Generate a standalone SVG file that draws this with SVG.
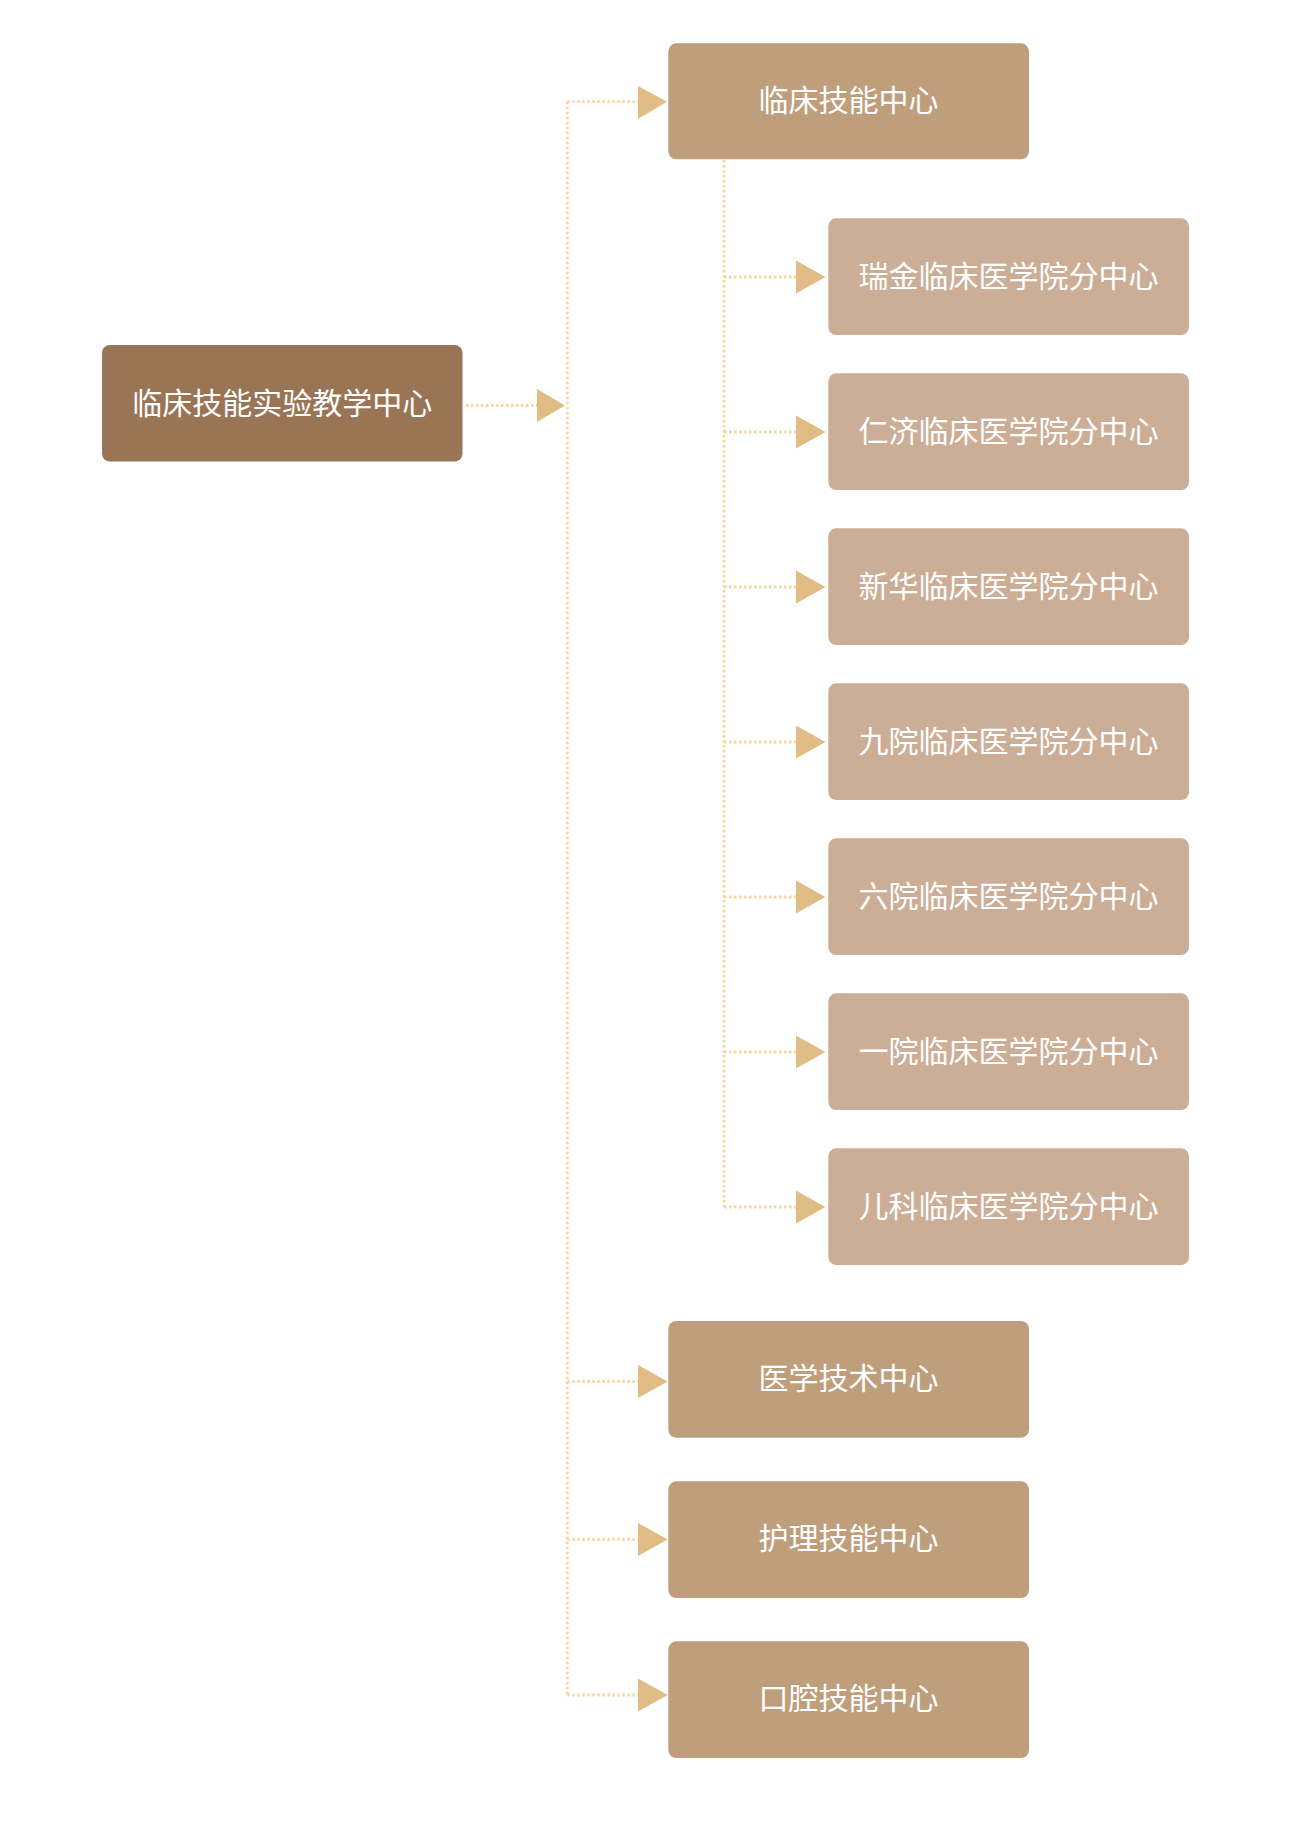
<svg xmlns="http://www.w3.org/2000/svg" width="1290" height="1830" viewBox="0 0 1290 1830">
<style>
.bg{fill:#ffffff}
.root{fill:#997555}
.l1{fill:#BF9E7C}
.l2{fill:#CCAE97}
.t{fill:#ffffff;font-family:"Noto Sans CJK SC","Noto Sans",sans-serif;font-size:30px;text-anchor:middle}
.dot{stroke:#F8D6A0;stroke-width:2.8;stroke-dasharray:2.5 2.5;fill:none}
.arr{fill:#E1BD86}
</style>
<rect class="bg" x="0" y="0" width="1290" height="1830"/>
<g id="connectors">
<path class="dot" d="M466 405.5H537"/>
<polygon class="arr" points="537,389 565,405.5 537,422"/>
<path class="dot" d="M567.3 101.7V1695"/>
<path class="dot" d="M567.3 101.7H638"/>
<polygon class="arr" points="638,86 667,101.7 638,119"/>
<path class="dot" d="M567.3 1381.5H638"/>
<polygon class="arr" points="638,1365 667.7,1381.5 638,1398"/>
<path class="dot" d="M567.3 1539.5H638"/>
<polygon class="arr" points="638,1523 667.7,1539.5 638,1556"/>
<path class="dot" d="M567.3 1695H638"/>
<polygon class="arr" points="638,1678.5 667.7,1695 638,1711.5"/>
<path class="dot" d="M724 160V1207"/>
<path class="dot" d="M724 277H796"/>
<polygon class="arr" points="796,260.5 825.5,277 796,293.5"/>
<path class="dot" d="M724 432H796"/>
<polygon class="arr" points="796,415.5 825.5,432 796,448.5"/>
<path class="dot" d="M724 587H796"/>
<polygon class="arr" points="796,570.5 825.5,587 796,603.5"/>
<path class="dot" d="M724 742H796"/>
<polygon class="arr" points="796,725.5 825.5,742 796,758.5"/>
<path class="dot" d="M724 897H796"/>
<polygon class="arr" points="796,880.5 825.5,897 796,913.5"/>
<path class="dot" d="M724 1052H796"/>
<polygon class="arr" points="796,1035.5 825.5,1052 796,1068.5"/>
<path class="dot" d="M724 1207H796"/>
<polygon class="arr" points="796,1190.5 825.5,1207 796,1223.5"/>
</g>
<g id="root"><rect class="root" x="102" y="345" width="360.5" height="116.5" rx="8"/><text class="t" x="282.3" y="414">临床技能实验教学中心</text></g>
<g id="n-clinical"><rect class="l1" x="668.3" y="43.3" width="360.7" height="116" rx="8"/><text class="t" x="848.6" y="111">临床技能中心</text></g>
<g id="n-ruijin"><rect class="l2" x="828.3" y="218.3" width="360.7" height="116.7" rx="8"/><text class="t" x="1008.6" y="286.5">瑞金临床医学院分中心</text></g>
<g id="n-renji"><rect class="l2" x="828.3" y="373.3" width="360.7" height="116.7" rx="8"/><text class="t" x="1008.6" y="441.5">仁济临床医学院分中心</text></g>
<g id="n-xinhua"><rect class="l2" x="828.3" y="528.3" width="360.7" height="116.7" rx="8"/><text class="t" x="1008.6" y="596.5">新华临床医学院分中心</text></g>
<g id="n-jiuyuan"><rect class="l2" x="828.3" y="683.3" width="360.7" height="116.7" rx="8"/><text class="t" x="1008.6" y="751.5">九院临床医学院分中心</text></g>
<g id="n-liuyuan"><rect class="l2" x="828.3" y="838.3" width="360.7" height="116.7" rx="8"/><text class="t" x="1008.6" y="906.5">六院临床医学院分中心</text></g>
<g id="n-yiyuan"><rect class="l2" x="828.3" y="993.3" width="360.7" height="116.7" rx="8"/><text class="t" x="1008.6" y="1061.5">一院临床医学院分中心</text></g>
<g id="n-erke"><rect class="l2" x="828.3" y="1148.3" width="360.7" height="116.7" rx="8"/><text class="t" x="1008.6" y="1216.5">儿科临床医学院分中心</text></g>
<g id="n-medtech"><rect class="l1" x="668.3" y="1321" width="360.7" height="116.7" rx="8"/><text class="t" x="848.6" y="1389">医学技术中心</text></g>
<g id="n-nursing"><rect class="l1" x="668.3" y="1481.3" width="360.7" height="116.7" rx="8"/><text class="t" x="848.6" y="1549">护理技能中心</text></g>
<g id="n-dental"><rect class="l1" x="668.3" y="1641.3" width="360.7" height="116.7" rx="8"/><text class="t" x="848.6" y="1709">口腔技能中心</text></g>
</svg>
